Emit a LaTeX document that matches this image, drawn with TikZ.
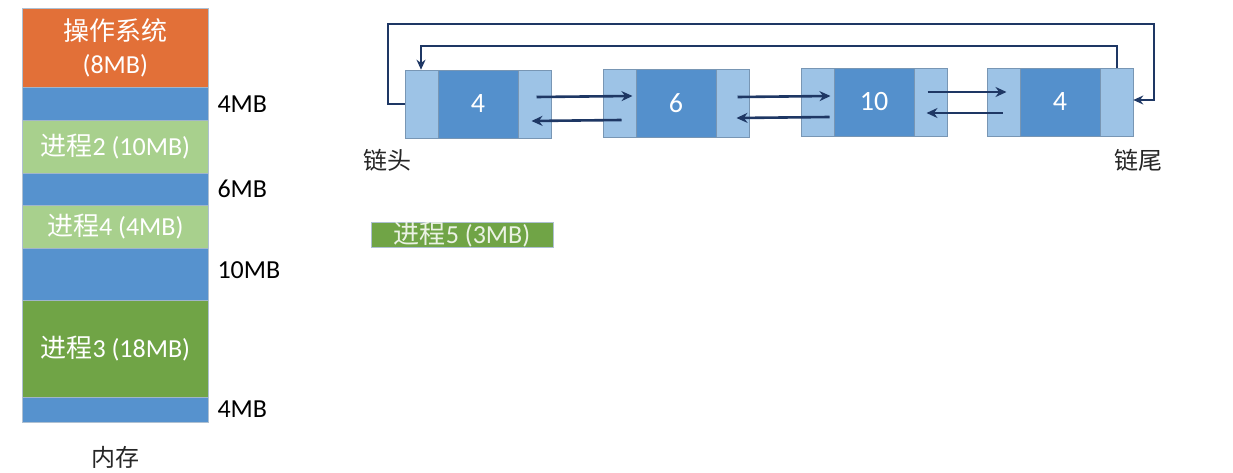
\documentclass[tikz,border=0pt]{standalone}
\usepackage{fontspec}
\setmainfont{Carlito}
\newfontfamily\cjk{Noto Sans CJK SC}
\usetikzlibrary{arrows.meta}
\definecolor{osor}{RGB}{226,112,56}
\definecolor{freeb}{RGB}{86,146,206}
\definecolor{lgreen}{RGB}{168,208,141}
\definecolor{dgreen}{RGB}{112,164,70}
\definecolor{lblue}{RGB}{157,195,230}
\definecolor{mblue}{RGB}{84,144,204}
\definecolor{edgeb}{RGB}{120,150,180}
\definecolor{navy}{RGB}{30,55,100}
\definecolor{txtlg}{RGB}{235,242,228}
\tikzset{
  memblk/.style={draw=edgeb!70, line width=0.6pt, minimum width=186pt, inner sep=0pt, anchor=north west, font=\fontsize{26}{30}\selectfont, text=white},
  side/.style={draw=edgeb, fill=lblue, line width=0.6pt, inner sep=0pt, minimum width=33pt, minimum height=68pt},
  mid/.style={draw=edgeb, fill=mblue, line width=0.6pt, inner sep=0pt, minimum width=80pt, minimum height=68pt, text=white, font=\fontsize{28}{30}\selectfont},
  lbl/.style={font=\fontsize{26}{30}\selectfont, text=black},
  cjklbl/.style={font=\cjk\fontsize{24}{28}\selectfont, text=black!85},
  link/.style={draw=navy, line width=2.6pt, -{Stealth[length=11pt,width=10pt]}},
  loop/.style={draw=navy, line width=1.8pt, -{Stealth[length=10pt,width=9pt]}},
}
\begin{document}
\begin{tikzpicture}[x=1pt,y=-1pt]
\useasboundingbox (0,0) rectangle (1233,473);
% memory column
\node[memblk, fill=osor, minimum height=79pt, align=center] (os) at (22,8) {{\cjk 操作系统}\\[3pt](8MB)};
\node[memblk, fill=freeb, minimum height=33pt] (f1) at (22,87) {};
\node[memblk, fill=lgreen, minimum height=53pt] (p2) at (22,120) {{\cjk 进程}2 (10MB)};
\node[memblk, fill=freeb, minimum height=32pt] (f2) at (22,173) {};
\node[memblk, fill=lgreen, minimum height=43pt] (p4) at (22,205) {{\cjk 进程}4 (4MB)};
\node[memblk, fill=freeb, minimum height=52pt] (f3) at (22,248) {};
\node[memblk, fill=dgreen, minimum height=97pt] (p3) at (22,300) {{\cjk 进程}3 (18MB)};
\node[memblk, fill=freeb, minimum height=25pt] (f4) at (22,397) {};
\draw[draw=edgeb!60, line width=0.6pt] (os.north west) rectangle (f4.south east);
\node[lbl, anchor=west] (l1) at (214,104) {4MB};
\node[lbl, anchor=west] (l2) at (214,189) {6MB};
\node[lbl, anchor=west] (l3) at (214,270) {10MB};
\node[lbl, anchor=west] (l4) at (214,409) {4MB};
\node[cjklbl] (mem) at (115,457) {内存};
% linked list nodes
\foreach \n/\x/\y/\v in {a/405/104/4, b/603/103/6, c/801/102/10, d/987/102/4}{
  \node[side] (\n L) at (\x+16.5,\y) {};
  \node[mid] (\n M) at (\x+73,\y) {\v};
  \node[side] (\n R) at (\x+129.5,\y) {};
}
% forward / backward links
\draw[link] ([xshift=2pt,yshift=7pt]aR.center) -- ([xshift=13pt,yshift=7pt]bL.center);
\draw[link] ([xshift=2pt,yshift=-17pt]bL.center) -- ([xshift=-3pt,yshift=-17pt]aR.center);
\draw[link] ([xshift=5pt,yshift=6pt]bR.center) -- ([xshift=13pt,yshift=6pt]cL.center);
\draw[link] ([xshift=12pt,yshift=-15pt]cL.center) -- ([xshift=4pt,yshift=-15pt]bR.center);
\draw[link] ([xshift=-3pt,yshift=10pt]cR.center) -- ([xshift=3pt,yshift=10pt]dL.center);
\draw[link] ([xshift=-1pt,yshift=-11pt]dL.center) -- ([xshift=-4pt,yshift=-11pt]cR.center);
% circular links
\coordinate (o1) at (388,104);
\coordinate (o2) at (388,24);
\coordinate (o3) at (1154,24);
\coordinate (o4) at (1154,100);
\draw[loop] (aL.west |- o1) -- (o1) -- (o2) -- (o3) -- (o4) -- (dR.east |- o4);
\coordinate (i1) at (1117,46);
\coordinate (i2) at (421,46);
\draw[loop] (dR.north -| i1) -- (i1) -- (i2) -- (aL.north -| i2);
\node[cjklbl] (head) at (387,160) {链头};
\node[cjklbl] (tail) at (1138,160) {链尾};
% process 5
\node[draw=edgeb!60, fill=dgreen, inner sep=0pt, minimum width=182pt, minimum height=25pt, text=txtlg, font=\fontsize{26}{26}\selectfont] (p5) at (462,234.5) {{\cjk 进程}5 (3MB)};
\end{tikzpicture}
\end{document}
